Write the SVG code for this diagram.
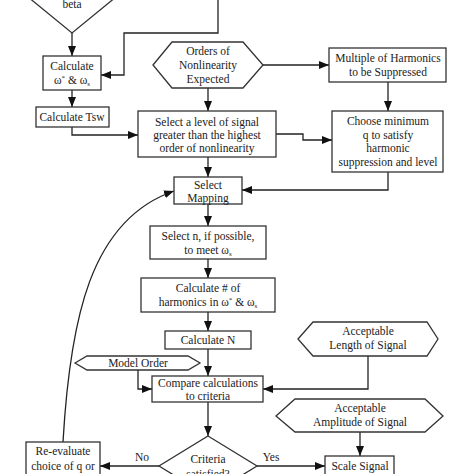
<svg xmlns="http://www.w3.org/2000/svg" width="474" height="474" viewBox="0 0 474 474" font-family="'Liberation Serif', 'DejaVu Serif', serif">
<defs>
<marker id="ah" viewBox="0 0 10 8" refX="10" refY="4" markerWidth="10" markerHeight="8" markerUnits="userSpaceOnUse" orient="auto">
<path d="M0,0 L10,4 L0,8 Z" fill="#111"/>
</marker>
</defs>
<style>
.n{fill:#fff;stroke:#333;stroke-width:1.3}
.c{fill:none;stroke:#222;stroke-width:1.3;marker-end:url(#ah)}
text{font-family:'Liberation Serif','DejaVu Serif',serif;font-size:11.5px;fill:#222;text-anchor:middle}
</style>
<rect width="474" height="474" fill="#fff"/>
<g id="connectors">
<line class="c" x1="72" y1="33" x2="72" y2="56"/>
<polyline class="c" points="218,0 218,33 124,33 124,75 101,75"/>
<line class="c" x1="72" y1="90" x2="72" y2="107"/>
<polyline class="c" points="72,127 72,135 138,135"/>
<line class="c" x1="208" y1="88" x2="208" y2="111"/>
<line class="c" x1="263" y1="65" x2="329" y2="65"/>
<line class="c" x1="388" y1="82" x2="388" y2="111"/>
<polyline class="c" points="276,134 303,134 303,140 332,140"/>
<polyline class="c" points="388,172 388,190 242,190"/>
<line class="c" x1="208" y1="157" x2="208" y2="177"/>
<line class="c" x1="208" y1="204" x2="208" y2="226"/>
<line class="c" x1="208" y1="259" x2="208" y2="278"/>
<line class="c" x1="208" y1="312" x2="208" y2="331"/>
<line class="c" x1="208" y1="349" x2="208" y2="376"/>
<polyline class="c" points="138,370 138,389 152,389"/>
<polyline class="c" points="368,356 368,389 263,389"/>
<line class="c" x1="208" y1="402" x2="208" y2="436"/>
<line class="c" x1="360" y1="432" x2="360" y2="456"/>
<line class="c" x1="257" y1="466" x2="325" y2="466"/>
<line class="c" x1="159" y1="466" x2="100" y2="466"/>
<path class="c" d="M63,442 C70,320 90,220 174,191"/>
<text x="271" y="461">Yes</text>
<text x="142" y="461">No</text>
</g>
<g id="beta">
<polygon class="n" points="72,-49 122,-8 72,33 22,-8"/>
<text x="72" y="8">beta</text>
</g>
<g id="calc-omega">
<rect class="n" x="43" y="56" width="58" height="34"/>
<text x="72" y="70">Calculate</text>
<text x="72" y="84">ω<tspan dy="-4" font-size="7">*</tspan><tspan dy="4"> &amp; ω</tspan><tspan dy="2" font-size="7">s</tspan></text>
</g>
<g id="calc-tsw">
<rect class="n" x="36" y="107" width="73" height="20"/>
<text x="72" y="121">Calculate Tsw</text>
</g>
<g id="orders">
<polygon class="n" points="153,65 172,42 243,42 263,65 243,88 172,88"/>
<text x="208" y="55">Orders of</text>
<text x="208" y="69">Nonlinearity</text>
<text x="208" y="83">Expected</text>
</g>
<g id="multiple">
<rect class="n" x="329" y="48" width="117" height="34"/>
<text x="388" y="62">Multiple of Harmonics</text>
<text x="388" y="76">to be Suppressed</text>
</g>
<g id="select-level">
<rect class="n" x="138" y="111" width="138" height="46"/>
<text x="207" y="126">Select a level of signal</text>
<text x="207" y="139">greater than the highest</text>
<text x="207" y="152">order of nonlinearity</text>
</g>
<g id="choose-q">
<rect class="n" x="332" y="111" width="111" height="61"/>
<text x="388" y="125">Choose minimum</text>
<text x="388" y="139">q to satisfy</text>
<text x="388" y="152">harmonic</text>
<text x="388" y="166">suppression and level</text>
</g>
<g id="select-mapping">
<rect class="n" x="174" y="177" width="68" height="27"/>
<text x="208" y="189">Select</text>
<text x="208" y="202">Mapping</text>
</g>
<g id="select-n">
<rect class="n" x="150" y="226" width="116" height="33"/>
<text x="208" y="240">Select n, if possible,</text>
<text x="208" y="254">to meet ω<tspan dy="2" font-size="7">s</tspan></text>
</g>
<g id="calc-harmonics">
<rect class="n" x="141" y="278" width="134" height="34"/>
<text x="208" y="292">Calculate # of</text>
<text x="208" y="306">harmonics in ω<tspan dy="-4" font-size="7">*</tspan><tspan dy="4"> &amp; ω</tspan><tspan dy="2" font-size="7">s</tspan></text>
</g>
<g id="calc-n">
<rect class="n" x="165" y="331" width="86" height="18"/>
<text x="208" y="344">Calculate N</text>
</g>
<g id="model-order">
<polygon class="n" points="75,363 87,356 188,356 200,363 188,370 87,370"/>
<text x="138" y="367">Model Order</text>
</g>
<g id="acc-length">
<polygon class="n" points="298,339 313,322 427,322 438,339 427,356 313,356"/>
<text x="368" y="335">Acceptable</text>
<text x="368" y="349">Length of Signal</text>
</g>
<g id="compare">
<rect class="n" x="152" y="376" width="111" height="26"/>
<text x="208" y="387">Compare calculations</text>
<text x="208" y="400">to criteria</text>
</g>
<g id="acc-amplitude">
<polygon class="n" points="276,416 295,399 425,399 443,416 425,432 295,432"/>
<text x="360" y="412">Acceptable</text>
<text x="360" y="426">Amplitude of Signal</text>
</g>
<g id="criteria">
<polygon class="n" points="208,436 257,466 208,496 159,466"/>
<text x="208" y="463">Criteria</text>
<text x="208" y="478">satisfied?</text>
</g>
<g id="re-evaluate">
<rect class="n" x="26" y="442" width="74" height="50"/>
<text x="63" y="455">Re-evaluate</text>
<text x="63" y="470">choice of q or</text>
</g>
<g id="scale-signal">
<rect class="n" x="325" y="456" width="69" height="30"/>
<text x="360" y="470">Scale Signal</text>
</g>
</svg>
